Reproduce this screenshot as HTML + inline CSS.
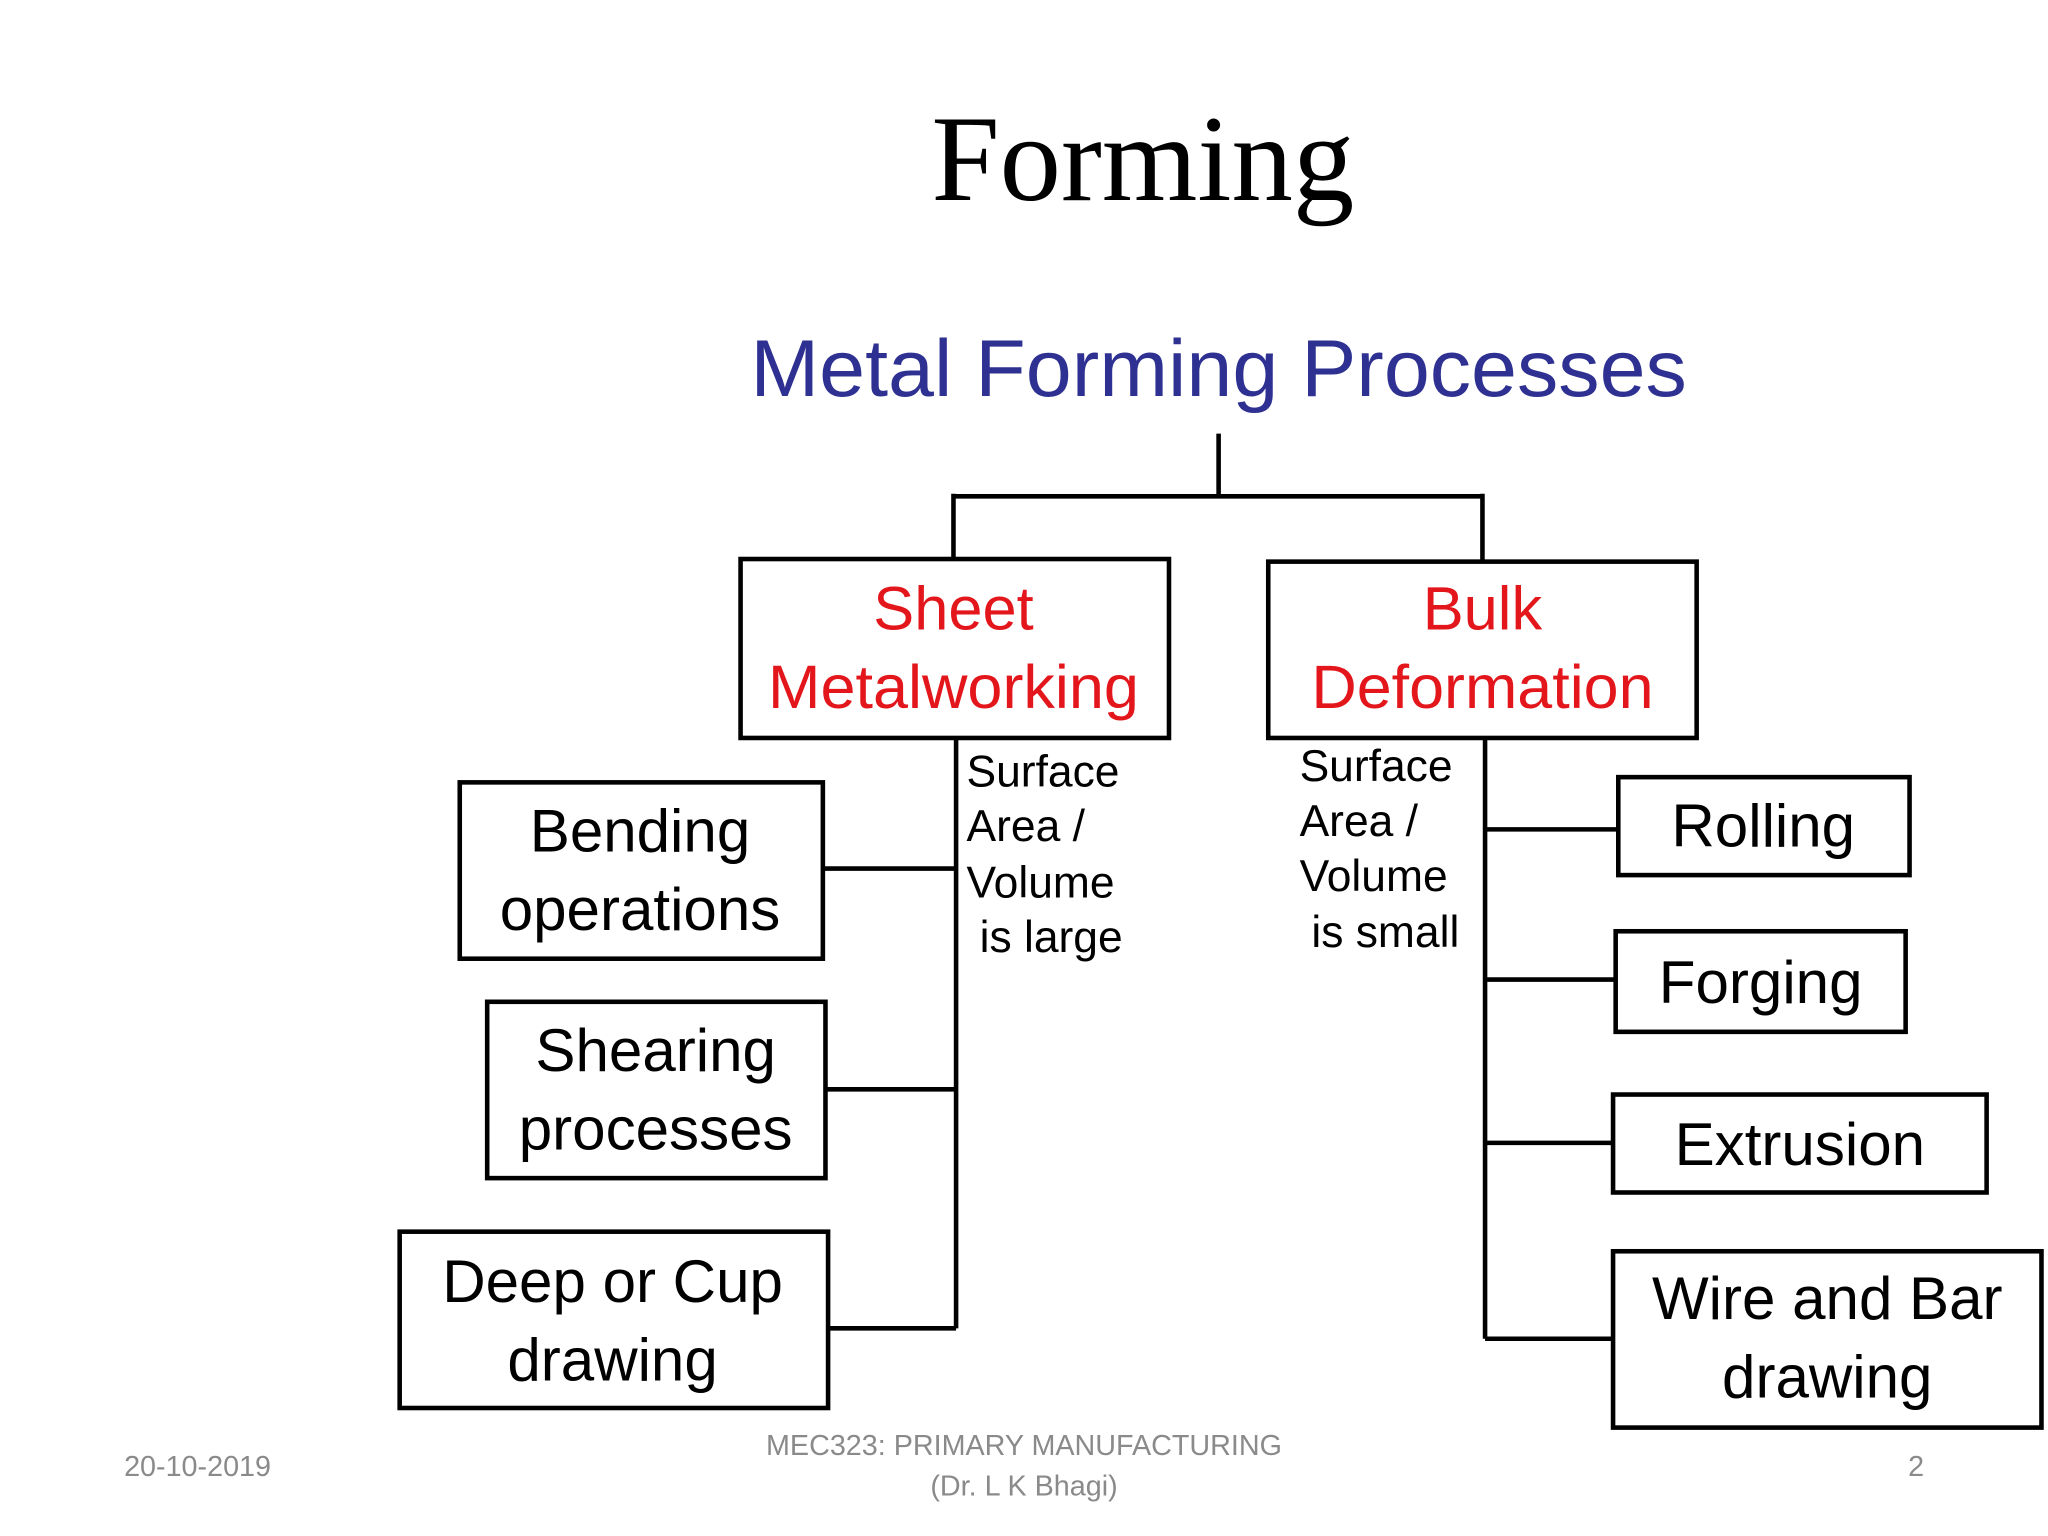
<!DOCTYPE html>
<html><head><meta charset="utf-8"><style>html,body{margin:0;padding:0;background:#fff}svg{display:block}</style></head>
<body>
<svg width="2048" height="1536" viewBox="0 0 1568 1176" xmlns="http://www.w3.org/2000/svg">
<rect width="1568" height="1176" fill="#fff"/>
<text x="875" y="153" font-family="Liberation Serif, serif" font-size="94" text-anchor="middle" fill="#000">Forming</text>
<text x="933" y="303" font-family="Liberation Sans, sans-serif" font-size="62" text-anchor="middle" fill="#2e3192" textLength="717" lengthAdjust="spacingAndGlyphs">Metal Forming Processes</text>
<g stroke="#000" stroke-width="3.5" fill="none">
<path d="M933 332V380M730 380H1135M730 378V428M1135 378V430"/>
<rect x="567" y="428" width="328" height="137"/>
<rect x="971" y="430" width="328" height="135"/>
<path d="M732 565V1017M630 665H732M633 834H732M634 1017H732"/>
<path d="M1137 565V1025M1137 635H1239M1137 750H1237M1137 875H1235M1137 1025H1235"/>
<rect x="352" y="599" width="278" height="135"/>
<rect x="373" y="767" width="259" height="135"/>
<rect x="306" y="943" width="328" height="135"/>
<rect x="1239" y="595" width="223" height="75"/>
<rect x="1237" y="713" width="222" height="77"/>
<rect x="1235" y="838" width="286" height="75"/>
<rect x="1235" y="958" width="328" height="135"/>
</g>
<g font-family="Liberation Sans, sans-serif" font-size="47" text-anchor="middle" fill="#e3161b">
<text x="730" y="482">Sheet</text>
<text x="730" y="542" textLength="284" lengthAdjust="spacingAndGlyphs">Metalworking</text>
<text x="1135" y="482">Bulk</text>
<text x="1135" y="542" textLength="262" lengthAdjust="spacingAndGlyphs">Deformation</text>
</g>
<g font-family="Liberation Sans, sans-serif" font-size="46" text-anchor="middle" fill="#000">
<text x="490" y="652">Bending</text>
<text x="490" y="712">operations</text>
<text x="502" y="820">Shearing</text>
<text x="502" y="880">processes</text>
<text x="469" y="997">Deep or Cup</text>
<text x="469" y="1057">drawing</text>
<text x="1350" y="648">Rolling</text>
<text x="1348" y="768">Forging</text>
<text x="1378" y="892">Extrusion</text>
<text x="1399" y="1010">Wire and Bar</text>
<text x="1399" y="1070">drawing</text>
</g>
<g font-family="Liberation Sans, sans-serif" font-size="34" fill="#000">
<text x="740" y="602">Surface</text>
<text x="740" y="644">Area /</text>
<text x="740" y="687">Volume</text>
<text x="750" y="729">is large</text>
<text x="995" y="598">Surface</text>
<text x="995" y="640">Area /</text>
<text x="995" y="682">Volume</text>
<text x="1004" y="725">is small</text>
</g>
<g font-family="Liberation Sans, sans-serif" font-size="22" fill="#8a8a8a">
<text x="95" y="1130">20-10-2019</text>
<text x="784" y="1114" text-anchor="middle">MEC323: PRIMARY MANUFACTURING</text>
<text x="784" y="1145" text-anchor="middle">(Dr. L K Bhagi)</text>
<text x="1467" y="1130" text-anchor="middle">2</text>
</g>
</svg>
</body></html>
